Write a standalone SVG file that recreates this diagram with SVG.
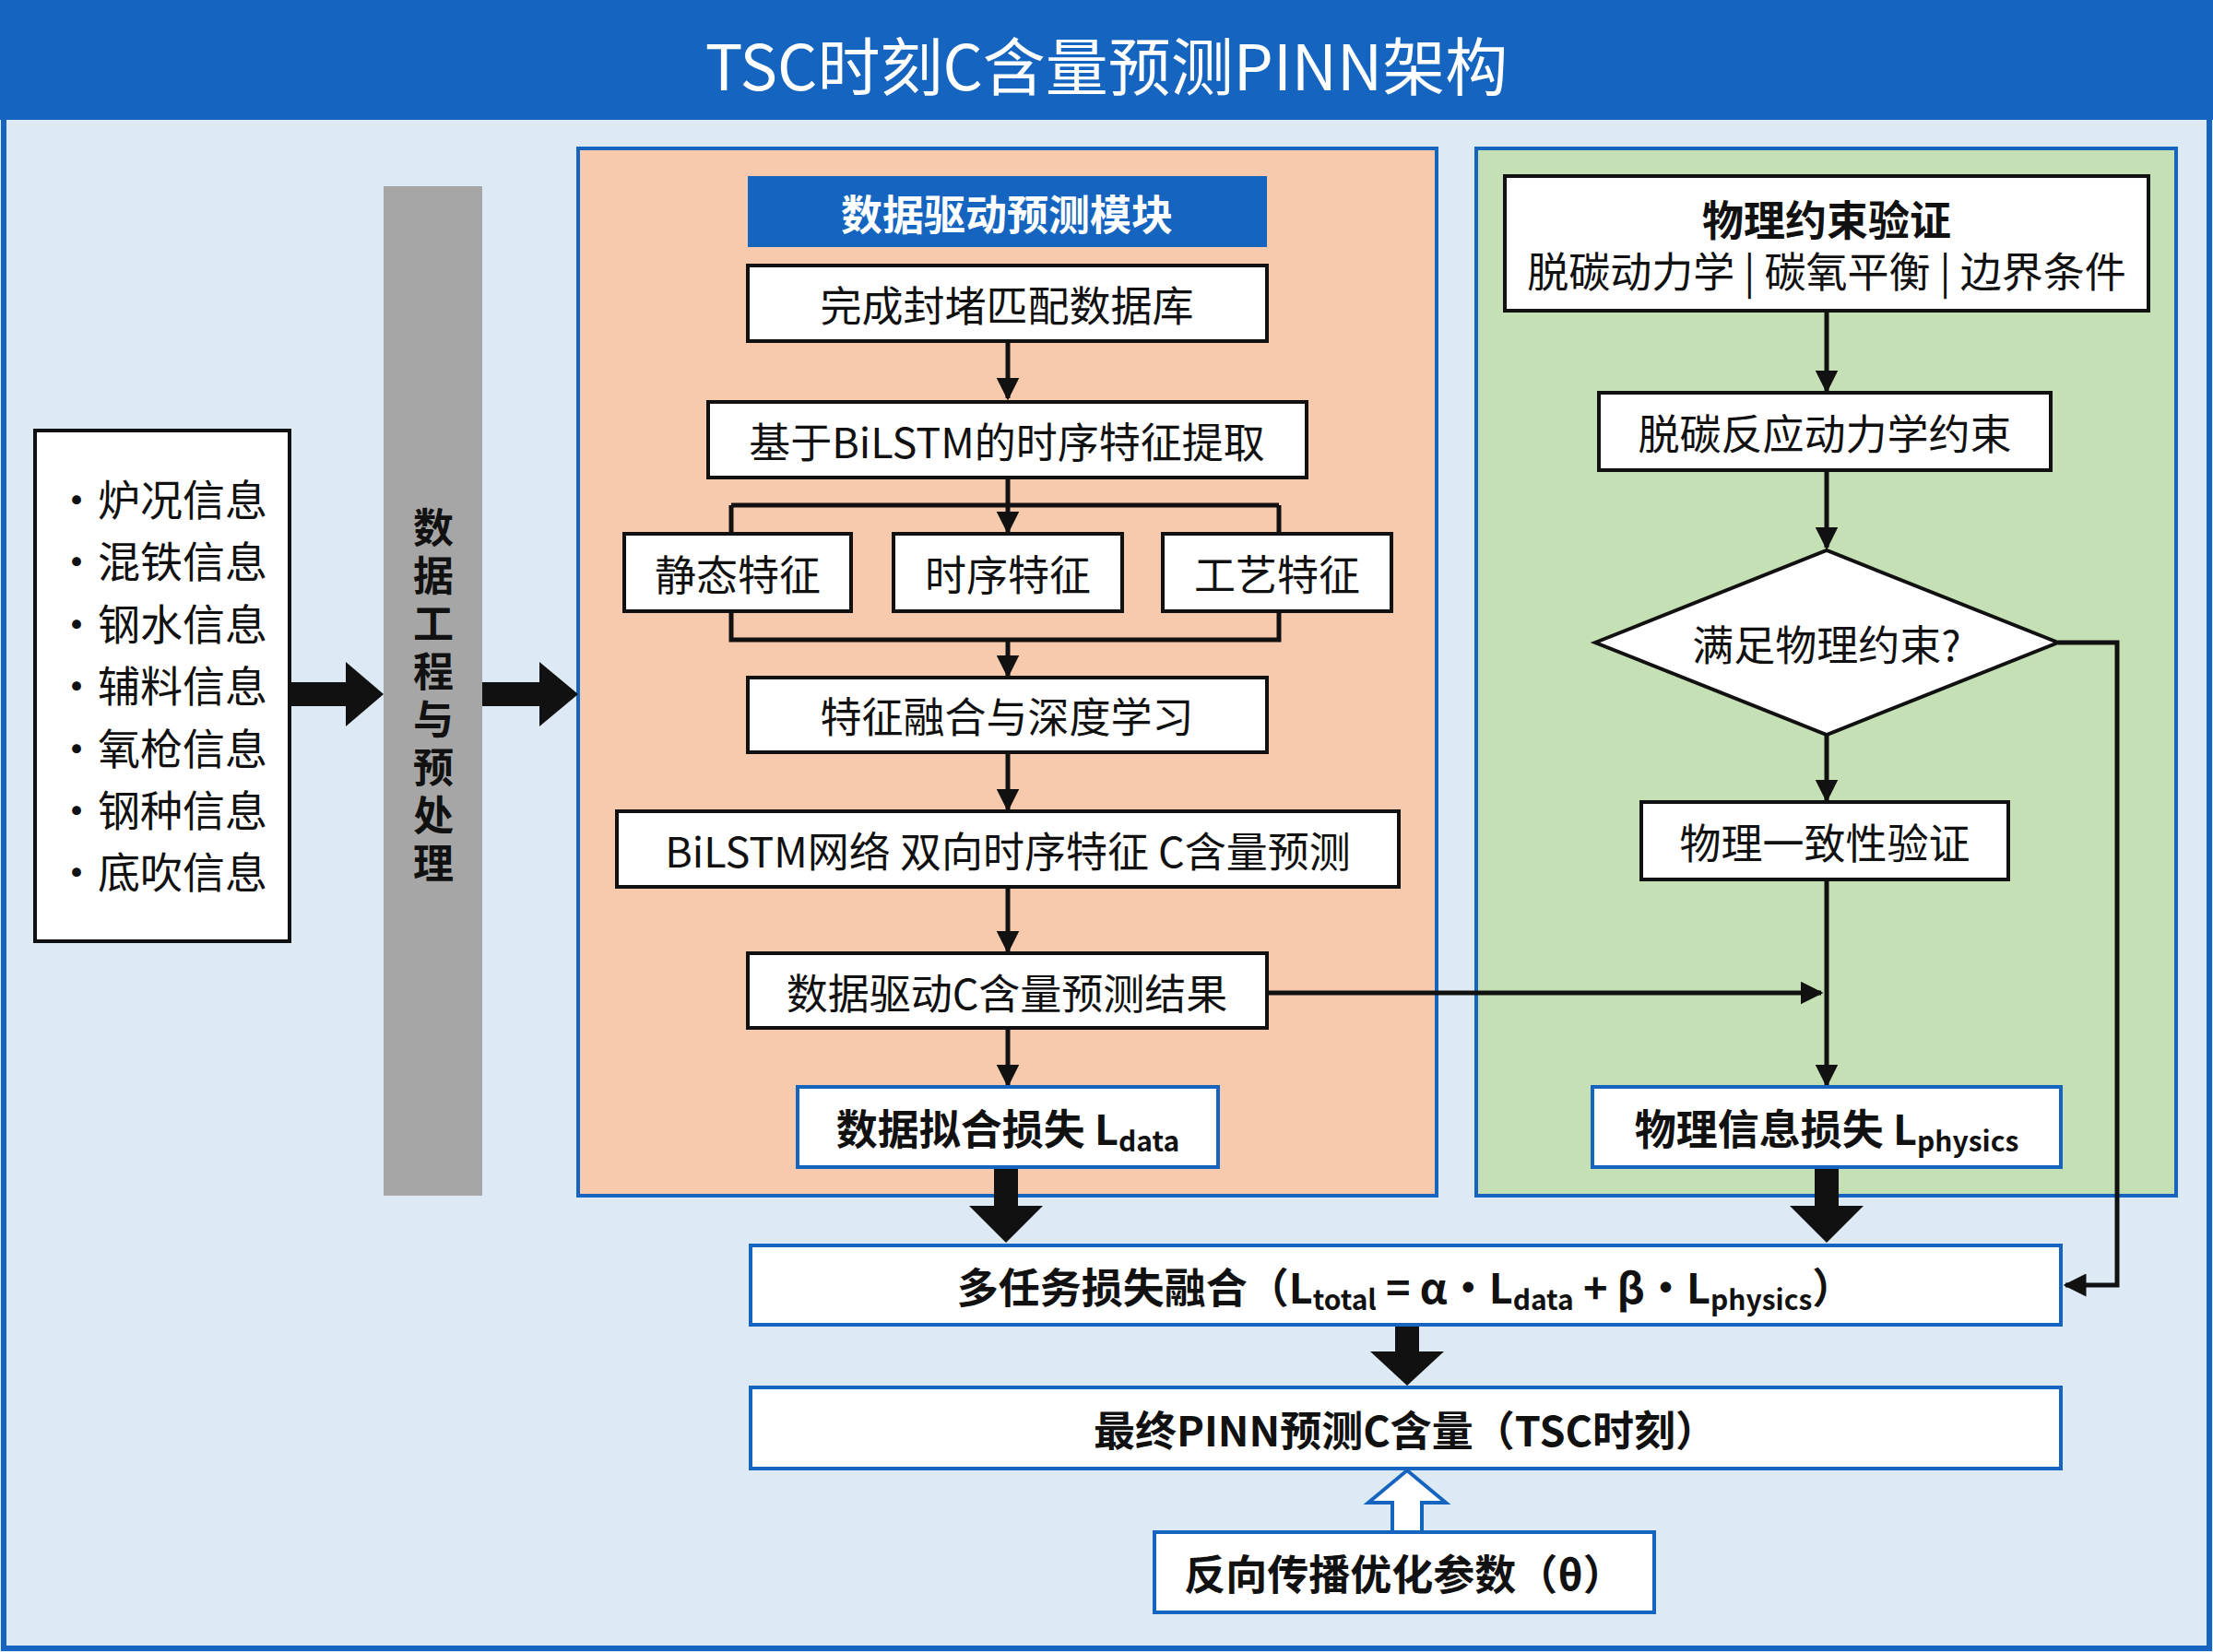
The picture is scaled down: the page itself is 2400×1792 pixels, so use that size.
<svg xmlns="http://www.w3.org/2000/svg" width="2400" height="1792" viewBox="0 0 2400 1792">
<defs>
<style>
text{font-family:"Noto Sans CJK SC","Liberation Sans",sans-serif;fill:#111}
.b{fill:#fff;stroke:#111;stroke-width:4}
.bb{fill:#fff;stroke:#1565c0;stroke-width:4}
.t{font-size:45px;text-anchor:middle;dominant-baseline:central}
.tb{font-size:45px;text-anchor:middle;dominant-baseline:central;font-weight:bold}
.v{font-size:44px;text-anchor:middle;dominant-baseline:central;font-weight:bold}
.l{stroke:#111;stroke-width:5;fill:none}
</style>
<marker id="a" viewBox="0 0 10 10" refX="9" refY="5" markerWidth="5" markerHeight="5" orient="auto"><path d="M0,0L10,5L0,10z" fill="#111"/></marker>
</defs>
<rect x="0" y="0" width="2400" height="1792" fill="#dde9f5"/>
<rect x="4" y="4" width="2392" height="1784" fill="none" stroke="#1565c0" stroke-width="6"/>
<g id="title"><rect x="0" y="0" width="2400" height="130" fill="#1565c0"/><text x="1200" y="68" font-size="68" text-anchor="middle" dominant-baseline="central" style="fill:#fff">TSC时刻C含量预测PINN架构</text></g>
<g id="inputs"><rect x="38" y="467" width="276" height="554" class="b"/>
<g font-size="46"><text x="60" y="539" dominant-baseline="central">•炉况信息</text><text x="60" y="606" dominant-baseline="central">•混铁信息</text><text x="60" y="674" dominant-baseline="central">•钢水信息</text><text x="60" y="741" dominant-baseline="central">•辅料信息</text><text x="60" y="809" dominant-baseline="central">•氧枪信息</text><text x="60" y="876" dominant-baseline="central">•钢种信息</text><text x="60" y="943" dominant-baseline="central">•底吹信息</text></g></g>
<g id="prep"><rect x="416" y="202" width="107" height="1095" fill="#a6a6a6"/>
<text x="470" y="570" class="v">数</text><text x="470" y="622" class="v">据</text><text x="470" y="674" class="v">工</text><text x="470" y="726" class="v">程</text><text x="470" y="778" class="v">与</text><text x="470" y="830" class="v">预</text><text x="470" y="882" class="v">处</text><text x="470" y="934" class="v">理</text></g>
<g id="panels"><rect x="627" y="161" width="931" height="1136" fill="#f7c9ad" stroke="#1565c0" stroke-width="4"/>
<rect x="1601" y="161" width="759" height="1136" fill="#c5e0b4" stroke="#1565c0" stroke-width="4"/></g>
<g id="connectors">
<path d="M314,753H380" stroke="#111" stroke-width="26"/><path d="M375,718L416,753L375,788z" fill="#111"/>
<path d="M523,753H590" stroke="#111" stroke-width="26"/><path d="M585,718L627,753L585,788z" fill="#111"/>
<path class="l" d="M1093,370V432" marker-end="url(#a)"/>
<path class="l" d="M1093,518V577" marker-end="url(#a)"/>
<path class="l" d="M793,548H1387M793,548V577M1387,548V577"/>
<path class="l" d="M793,663V694H1387V663M1093,694V733" marker-end="url(#a)"/>
<path class="l" d="M1093,816V878" marker-end="url(#a)"/>
<path class="l" d="M1093,962V1032" marker-end="url(#a)"/>
<path class="l" d="M1093,1115V1177" marker-end="url(#a)"/>
<path class="l" d="M1374,1077H1975" marker-end="url(#a)"/>
<path class="l" d="M1981,337V424" marker-end="url(#a)"/>
<path class="l" d="M1981,510V594" marker-end="url(#a)"/>
<path class="l" d="M1981,797V868" marker-end="url(#a)"/>
<path class="l" d="M1981,954V1177" marker-end="url(#a)"/>
<path class="l" d="M2232,697H2296V1394H2240" marker-end="url(#a)"/>
<path d="M1091,1268V1312" stroke="#111" stroke-width="26"/><path d="M1051,1308L1091,1348L1131,1308z" fill="#111"/>
<path d="M1981,1268V1312" stroke="#111" stroke-width="26"/><path d="M1941,1308L1981,1348L2021,1308z" fill="#111"/>
<path d="M1526,1437V1470" stroke="#111" stroke-width="26"/><path d="M1486,1466L1526,1503L1566,1466z" fill="#111"/>
<path d="M1510,1662V1630H1484L1526,1595L1568,1630H1542V1662" fill="#fff" stroke="#1565c0" stroke-width="4"/>
</g>
<g id="n_header"><rect x="811" y="191" width="563" height="77" fill="#1565c0"/><text x="1092" y="230" class="tb" font-size="48" style="fill:#fff">数据驱动预测模块</text></g>
<g id="n1"><rect x="811" y="288" width="563" height="82" class="b"/><text x="1092" y="329" class="t">完成封堵匹配数据库</text></g>
<g id="n2"><rect x="768" y="436" width="649" height="82" class="b"/><text x="1092" y="477" class="t">基于BiLSTM的时序特征提取</text></g>
<g id="n3"><rect x="677" y="579" width="246" height="84" class="b"/><text x="800" y="621" class="t">静态特征</text></g>
<g id="n4"><rect x="969" y="579" width="248" height="84" class="b"/><text x="1093" y="621" class="t">时序特征</text></g>
<g id="n5"><rect x="1261" y="579" width="248" height="84" class="b"/><text x="1385" y="621" class="t">工艺特征</text></g>
<g id="n6"><rect x="811" y="735" width="563" height="81" class="b"/><text x="1092" y="775" class="t">特征融合与深度学习</text></g>
<g id="n7"><rect x="669" y="880" width="848" height="82" class="b"/><text x="1093" y="921" class="t">BiLSTM网络 双向时序特征 C含量预测</text></g>
<g id="n8"><rect x="811" y="1034" width="563" height="81" class="b"/><text x="1092" y="1075" class="t">数据驱动C含量预测结果</text></g>
<g id="n9"><rect x="865" y="1179" width="456" height="87" class="bb"/><text x="1093" y="1222" class="tb">数据拟合损失 L<tspan font-size="30" dy="14">data</tspan></text></g>
<g id="p1"><rect x="1632" y="191" width="698" height="146" class="b"/><text x="1981" y="236" class="tb">物理约束验证</text><text x="1981" y="292" class="t">脱碳动力学 | 碳氧平衡 | 边界条件</text></g>
<g id="p2"><rect x="1734" y="426" width="490" height="84" class="b"/><text x="1979" y="468" class="t">脱碳反应动力学约束</text></g>
<g id="p3"><path d="M1730,697L1981,597L2232,697L1981,797z" class="b"/><text x="1981" y="697" class="t">满足物理约束?</text></g>
<g id="p4"><rect x="1780" y="870" width="398" height="84" class="b"/><text x="1979" y="912" class="t">物理一致性验证</text></g>
<g id="p5"><rect x="1727" y="1179" width="508" height="87" class="bb"/><text x="1981" y="1222" class="tb">物理信息损失 L<tspan font-size="30" dy="14">physics</tspan></text></g>
<g id="f1"><rect x="814" y="1351" width="1421" height="86" class="bb"/><text x="1524" y="1394" class="tb">多任务损失融合（L<tspan font-size="30" dy="14">total</tspan><tspan dy="-14"> = α·L</tspan><tspan font-size="30" dy="14">data</tspan><tspan dy="-14"> + β·L</tspan><tspan font-size="30" dy="14">physics</tspan><tspan dy="-14">）</tspan></text></g>
<g id="f2"><rect x="814" y="1505" width="1421" height="88" class="bb"/><text x="1524" y="1549" class="tb">最终PINN预测C含量（TSC时刻）</text></g>
<g id="f3"><rect x="1252" y="1662" width="542" height="87" class="bb"/><text x="1523" y="1705" class="tb">反向传播优化参数（θ）</text></g>
</svg>
